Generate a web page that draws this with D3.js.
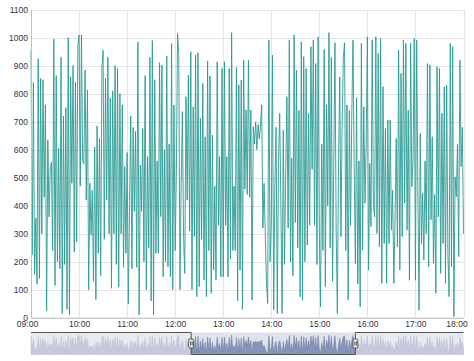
<!DOCTYPE html>
<html><head><meta charset="utf-8">
<script src="https://cdn.jsdelivr.net/npm/d3@7"></script>
<style>
html,body{margin:0;padding:0;background:#fff;}
svg{display:block;}
text{font-family:"Liberation Sans",Arial,sans-serif;font-size:8.5px;fill:#333;}
</style></head>
<body>
<svg id="c" width="474" height="361"></svg>
<script>
// ---- data ----
const startTime = "09:00";
const endTime = "18:00";
const intervalSeconds = 90;
const values = [
 955,225,840,155,355,120,925,140,855,300, 850,430,760,25,635,360,530,555,240,995,
 115,865,200,605,175,930,15,720,190,750, 30,1000,10,860,480,900,235,840,270,970,
 1010,470,1010,560,550,885,420,813,100,480, 295,455,130,610,65,685,230,640,150,890,
 955,280,855,420,930,300,785,105,810,300, 900,190,890,110,800,300,760,180,540,230,
 590,50,380,720,175,680,380,665,180,985, 10,545,380,675,200,865,100,575,250,930,
 60,990,10,850,230,560,230,911,361,902, 146,600,200,935,182,620,146,979,100,760,
 240,520,1015,944,100,480,736,289,158,789, 420,866,310,950,100,753,290,938,75,946,
 111,712,280,837,135,646,75,917,240,863, 87,652,170,470,135,914,330,575,146,890,
 146,914,330,575,146,890,210,1018,240,470, 240,894,60,831,170,849,30,920,460,742,
 440,920,430,742,63,682,620,700,600,690, 640,682,760,320,480,300,120,51,992,200,
 330,938,27,470,680,15,560,730,400,15, 670,190,520,789,320,991,200,570,150,1010,
 340,884,250,740,75,985,63,932,200,890, 260,730,330,968,530,992,330,908,190,1003,
 300,39,620,240,958,111,760,400,1018,250, 930,130,540,982,320,15,560,860,290,700,
 930,982,240,760,63,740,330,720,991,540, 193,786,120,560,39,980,241,753,409,620,
 1003,170,551,325,992,409,360,1003,301,944, 253,997,123,825,265,676,123,706,265,706,
 313,456,123,349,640,253,956,170,872,289, 992,409,980,313,741,134,980,468,560,997,
 134,991,468,27,658,265,444,206,560,300, 908,182,903,350,646,194,440,87,896,360,
 890,158,730,265,825,123,831,230,75,980, 182,968,4,503,432,620,218,920,540,680,
 300
];
const yTicks = [0,100,200,300,400,500,600,700,800,900,1000,1100];
const xTickLabels = ["09:00","10:00","11:00","12:00","13:00","14:00","15:00","16:00","17:00","18:00"];
const selectedRange = ["12:20", "15:45"];

// ---- build ----
const parse = d3.timeParse("%H:%M");
const t0 = parse(startTime), t1 = parse(endTime);
const data = values.map((v,i)=>({t:new Date(t0.getTime()+i*intervalSeconds*1000), v}));

const svg = d3.select("#c");
const L = 31, R = 463.5, T = 9.7, B = 317.7;
const x = d3.scaleTime().domain([t0,t1]).range([L,R]);
const y = d3.scaleLinear().domain([0,1100]).range([B,T]);

// grid
svg.append("g").selectAll("line").data(yTicks).join("line")
  .attr("x1",L).attr("x2",R).attr("y1",d=>Math.round(y(d))+0.5).attr("y2",d=>Math.round(y(d))+0.5)
  .attr("stroke","#e3e3e3").attr("stroke-width",1);
const xTicks = xTickLabels.map(s=>parse(s));
svg.append("g").selectAll("line").data(xTicks).join("line")
  .attr("x1",d=>Math.round(x(d))+0.5).attr("x2",d=>Math.round(x(d))+0.5).attr("y1",T).attr("y2",B)
  .attr("stroke","#e3e3e3").attr("stroke-width",1);

// line
const line = d3.line().x(d=>x(d.t)).y(d=>y(d.v));
svg.append("path").datum(data).attr("d",line)
  .attr("fill","none").attr("stroke","#2a9a93").attr("stroke-width",0.9).attr("stroke-linejoin","round");

// axes
const yAxis = d3.axisLeft(y).tickValues(yTicks).tickFormat(d3.format("d")).tickSize(0).tickPadding(3);
const gy = svg.append("g").attr("transform",`translate(${L},0)`).call(yAxis);
gy.select(".domain").attr("stroke","#c0c0c0").attr("d",`M0.5,${T}V${B}`);
gy.selectAll("text").style("font-family","Liberation Sans, Arial, sans-serif").style("font-size","8.5px").attr("fill","#333");

const xAxis = d3.axisBottom(x).tickValues(xTicks).tickFormat(d3.timeFormat("%H:%M")).tickSize(0).tickPadding(3);
const gx = svg.append("g").attr("transform",`translate(0,${B})`).call(xAxis);
gx.select(".domain").attr("stroke","#c0c0c0");
gx.selectAll("text").style("font-family","Liberation Sans, Arial, sans-serif").style("font-size","8.5px").attr("fill","#333");
gx.selectAll(".tick text").attr("dx",(d,i)=> i===0 ? -4 : (i===xTicks.length-1 ? -7 : 0));

// ---- navigator ----
const NT = 332.5, NB = 354.5;
const yn = d3.scaleLinear().domain([0,1100]).range([NB,NT+1]);
const s0 = parse(selectedRange[0]), s1 = parse(selectedRange[1]);
const xs0 = x(s0), xs1 = x(s1);
const area = d3.area().x(d=>x(d.t)).y0(NB).y1(d=>yn(d.v));
const nav = svg.append("g");
nav.append("rect").attr("x",L).attr("y",NT).attr("width",R-L).attr("height",NB-NT).attr("fill","#e9eaf0");
nav.append("clipPath").attr("id","sel").append("rect").attr("x",xs0).attr("y",NT).attr("width",xs1-xs0).attr("height",NB-NT);
nav.append("path").datum(data).attr("d",area).attr("fill","#c6cadc").attr("stroke","#b7bdd3").attr("stroke-width",0.5);
const selG = nav.append("g").attr("clip-path","url(#sel)");
selG.append("rect").attr("x",xs0).attr("y",NT).attr("width",xs1-xs0).attr("height",NB-NT).attr("fill","#dfe3ee");
selG.append("path").datum(data).attr("d",area).attr("fill","#8795b8").attr("stroke","#6b7aa0").attr("stroke-width",0.5);
nav.append("path")
  .attr("d",`M${L},${NT} H${xs0} V${NB} H${xs1} V${NT} H${R}`)
  .attr("fill","none").attr("stroke","#555").attr("stroke-width",1);
[xs0,xs1].forEach(hx=>{
  const g = nav.append("g").attr("transform",`translate(${hx},343.5)`);
  g.append("rect").attr("x",-2.5).attr("y",-4.5).attr("width",5).attr("height",9).attr("rx",1.5)
    .attr("fill","#ebebeb").attr("stroke","#555").attr("stroke-width",1);
  g.append("line").attr("x1",-0.5).attr("x2",-0.5).attr("y1",-2).attr("y2",2).attr("stroke","#555");
  g.append("line").attr("x1",1).attr("x2",1).attr("y1",-2).attr("y2",2).attr("stroke","#555");
});
</script>
</body></html>
